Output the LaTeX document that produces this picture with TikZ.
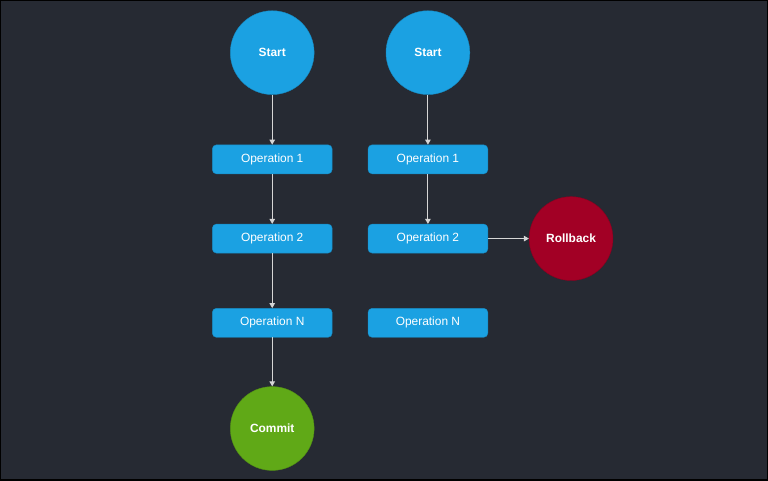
\documentclass[tikz,border=0pt]{standalone}
\usepackage{fontspec}
\setmainfont{Liberation Sans}
\usetikzlibrary{arrows.meta, positioning}

\definecolor{bgdark}{HTML}{262A33}
\definecolor{opblue}{HTML}{1BA1E2}
\definecolor{rbred}{HTML}{A20025}
\definecolor{cmgreen}{HTML}{60A917}
\definecolor{linegray}{HTML}{D6D6D6}

\tikzset{
  opbox/.style={draw=opblue!85!black, fill=opblue, rounded corners=4bp,
                minimum width=120bp, minimum height=29bp, text=white,
                font=\fontsize{12}{14}\selectfont, inner sep=0pt},
  endpoint/.style={circle, draw=#1!85!black, fill=#1, minimum size=84bp,
                   text=white, font=\fontsize{12}{14}\selectfont\bfseries,
                   inner sep=0pt},
  flow/.style={draw=linegray, line width=0.9bp,
               -{Triangle[width=5.5bp, length=5bp]}}
}

\begin{document}
\begin{tikzpicture}[x=1bp, y=-1bp, node distance=50bp]
  \fill[bgdark] (0,0) rectangle (768,480);
  \draw[black, line width=1.5bp] (0,0) rectangle (768,480);
  \useasboundingbox (0,0) rectangle (768,480);

  % commit path
  \node[endpoint=opblue] (startA) at (272,52) {Start};
  \node[opbox, below=50bp of startA] (opA1) {Operation 1};
  \node[opbox, below=50bp of opA1] (opA2) {Operation 2};
  \node[opbox, below=55bp of opA2] (opAN) {Operation N};
  \node[endpoint=cmgreen, below=49bp of opAN] (commit) {Commit};

  % rollback path
  \node[endpoint=opblue] (startB) at (428,52) {Start};
  \node[opbox, below=50bp of startB] (opB1) {Operation 1};
  \node[opbox, below=50bp of opB1] (opB2) {Operation 2};
  \node[opbox, below=55bp of opB2] (opBN) {Operation N};
  \node[endpoint=rbred, right=41bp of opB2] (rollback) {Rollback};

  \draw[flow] (startA) -- (opA1);
  \draw[flow] (opA1) -- (opA2);
  \draw[flow] (opA2) -- (opAN);
  \draw[flow] (opAN) -- (commit);

  \draw[flow] (startB) -- (opB1);
  \draw[flow] (opB1) -- (opB2);
  \draw[flow] (opB2) -- (rollback);
\end{tikzpicture}
\end{document}
